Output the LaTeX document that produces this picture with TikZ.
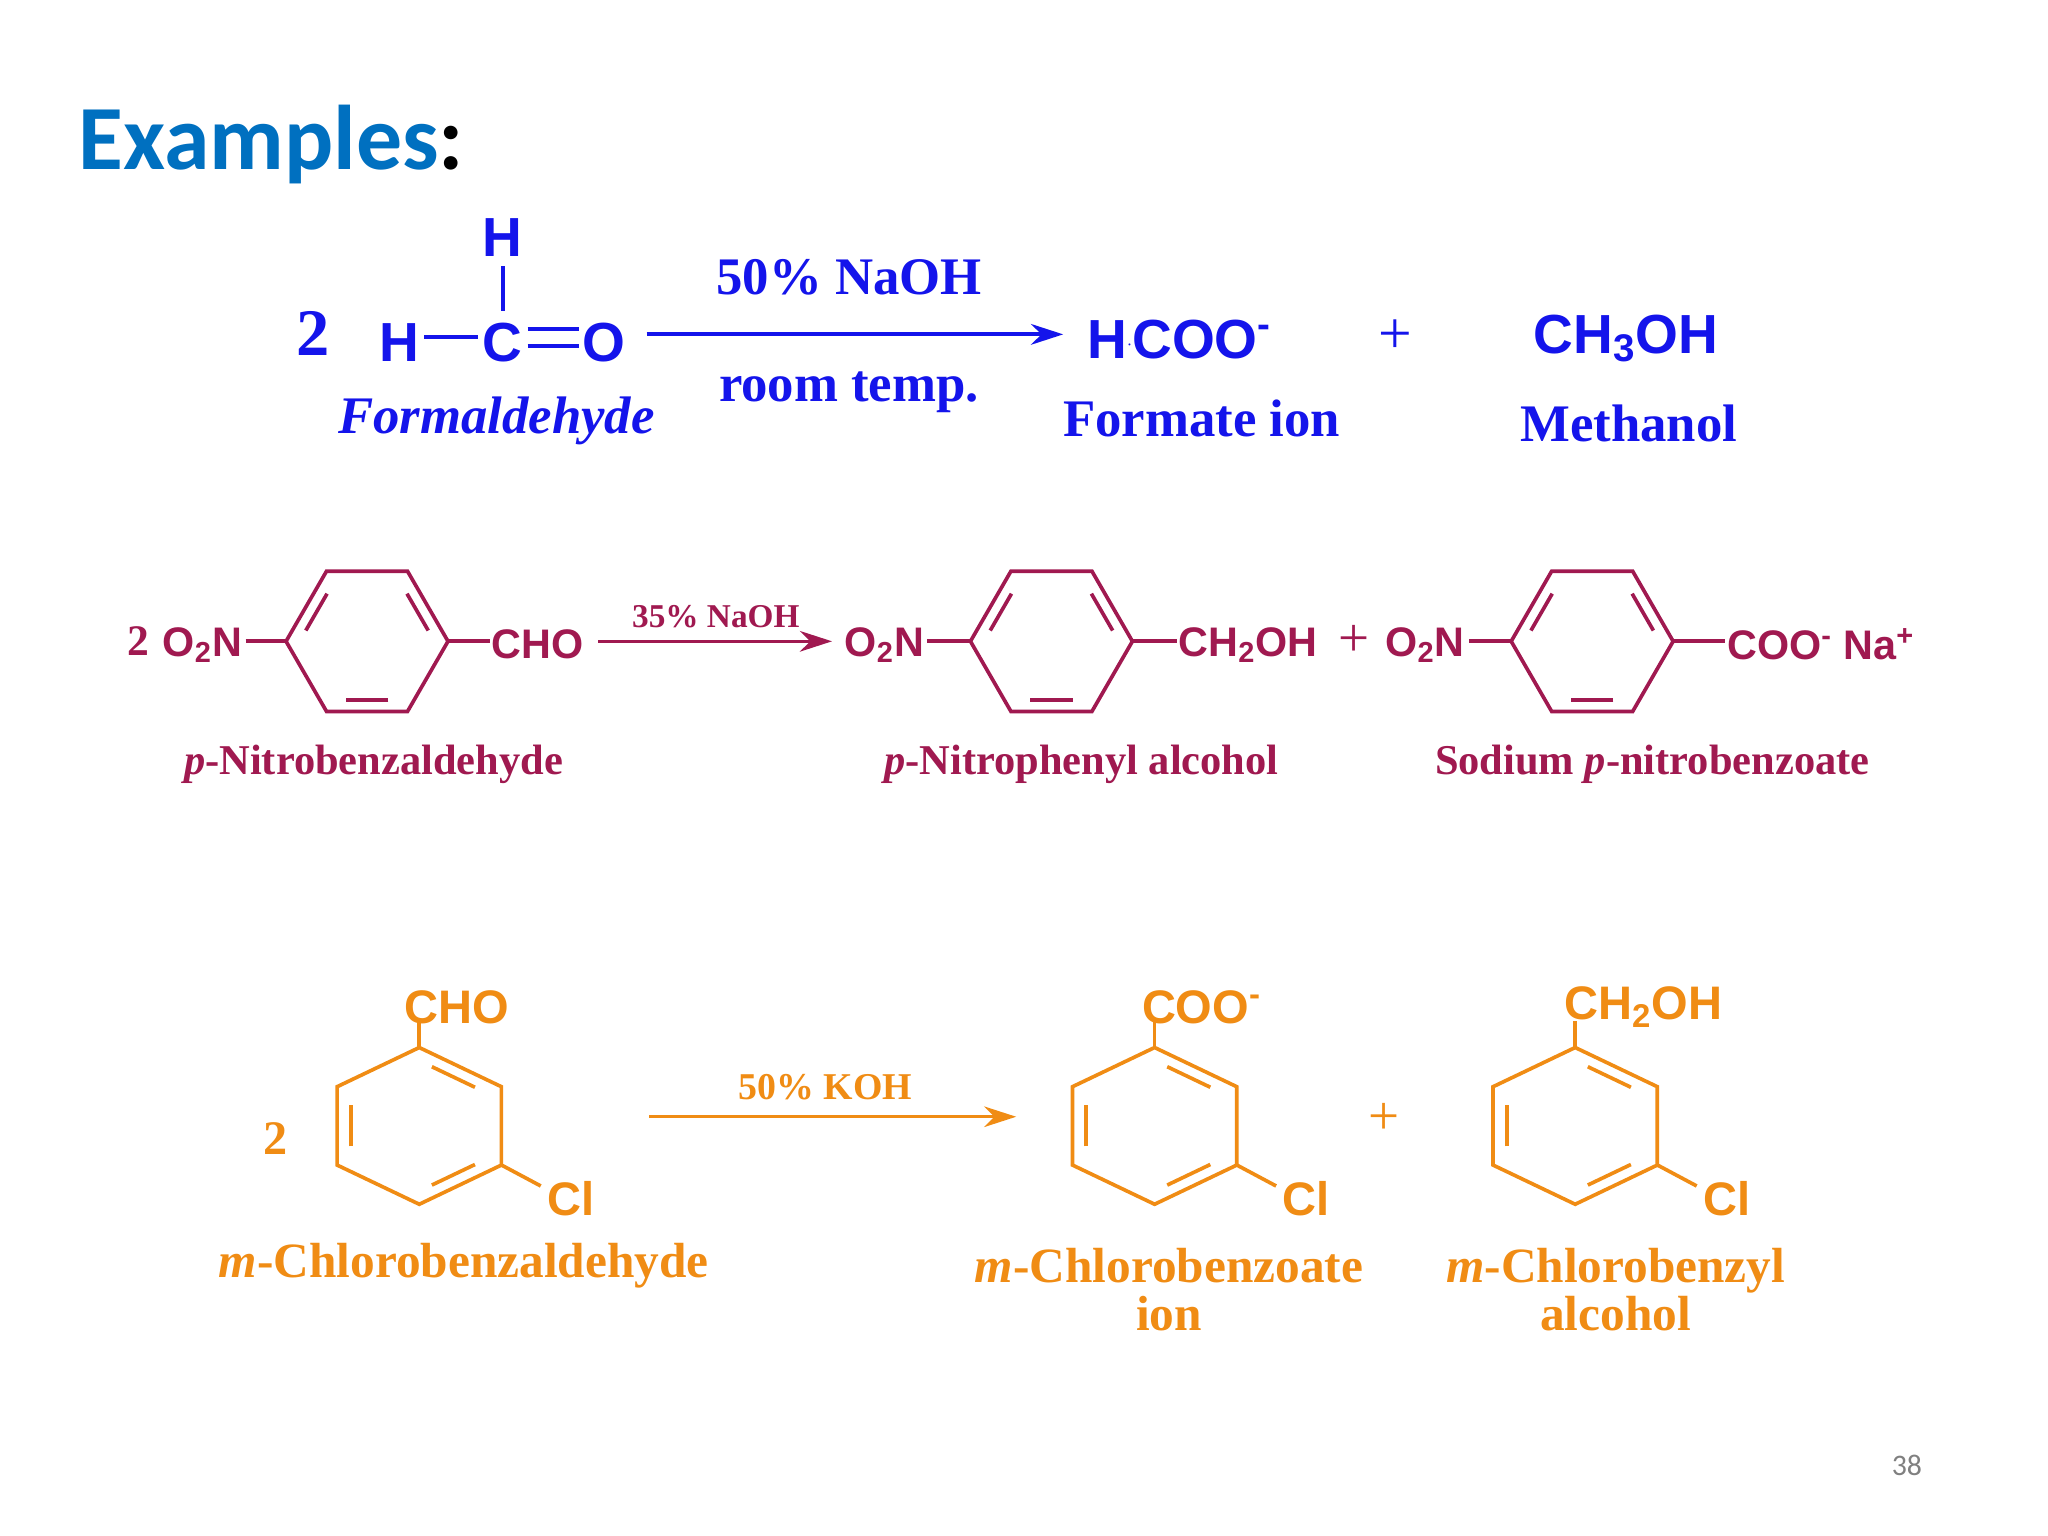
\documentclass[tikz,border=0pt]{standalone}
\usepackage{fontspec}
\setmainfont{Liberation Serif}
\newfontfamily\arial{Liberation Sans}
\newfontfamily\calib{Carlito}
\usetikzlibrary{arrows.meta,calc}
\definecolor{ttl}{RGB}{0,112,192}
\definecolor{bl}{RGB}{20,20,235}
\definecolor{mr}{RGB}{160,25,80}
\definecolor{og}{RGB}{240,140,20}
\tikzset{
 chem/.style={font=\arial\bfseries\fontsize{#1}{#1}\selectfont,inner sep=0pt},
 nm/.style={font=\bfseries\fontsize{#1}{#1}\selectfont,inner sep=0pt,align=center},
 nm2/.style={font=\bfseries\fontsize{#1}{#1}\selectfont,inner sep=0pt,align=center,anchor=north},
 bond/.style={line width=1.6pt},
 rxn/.style={line width=1.8pt,-{Stealth[length=14pt,width=9pt]}},
}
\newcommand\hringH[1]{% flat top
 \begin{scope}[shift={#1},bond]
 \draw (0:62)--(60:62)--(120:62)--(180:62)--(240:62)--(300:62)--cycle;
 \foreach \a in {60,180,300}{\draw (\a+10:47.6)--(\a+50:47.6);}
 \end{scope}}
\newcommand\hringV[1]{% pointy top
 \begin{scope}[shift={#1},bond,xscale=1.21]
 \draw (90:60)--(30:60)--(-30:60)--(-90:60)--(-150:60)--(150:60)--cycle;
 \foreach \a in {30,150,270}{\draw (\a+10:46)--(\a+50:46);}
 \end{scope}}
\begin{document}
\begin{tikzpicture}[x=0.02cm,y=-0.02cm]
\useasboundingbox[fill=white] (0,0) rectangle (1568,1176);
\node[anchor=base west,inner sep=0pt,font=\calib\bfseries\fontsize{40}{40}\selectfont] (ttl) at (60,130) {\textcolor{ttl}{Examples}:};
% Row 1
\begin{scope}[bl]
\node[nm=29] (two1) at (240,255) {2};
\node[chem=24] (h1) at (306,262) {H};
\node[chem=24] (c1) at (385,262) {C};
\node[chem=24] (o1) at (462,262) {O};
\node[chem=24] (ht) at (385,182) {H};
\draw[bond] (385,204) -- (385,238);
\draw[bond] (325,258) -- (366,258);
\draw[bond] (404,252) -- (443,252);
\draw[bond] (404,265) -- (443,265);
\node[nm=23,font=\bfseries\itshape\fontsize{23}{23}\selectfont] (fa) at (380,322) {Formaldehyde};
\node[nm=23] (r1) at (650,212) {50\% NaOH};
\node[nm=23] (r1b) at (650,300) {room temp.};
\coordinate (a1s) at (495,256);
\coordinate (a1e) at (814,256);
\draw[rxn] (a1s) -- (a1e);
\node[chem=24] (fi) at (903,260) {H\raisebox{0.3ex}{\fontsize{8}{8}\selectfont$\cdot$}COO\textsuperscript{-}};
\node[nm=23] (fil) at (920,320) {Formate ion};
\node[font=\fontsize{26}{26}\selectfont,inner sep=0pt] (p1) at (1068,258) {+};
\node[chem=24] (me) at (1245,259) {CH\textsubscript{3}OH};
\node[nm=23] (mel) at (1247,324) {Methanol};
\end{scope}
% Row 2
\begin{scope}[mr]
\node[nm=19] (two2) at (106,491) {2};
\node[chem=18] (n1) at (155,494) {O\textsubscript{2}N};
\draw[bond] (188,491) -- (219,491);
\hringH{(281,491)}
\draw[bond] (343,491) -- (375,491);
\node[chem=18,anchor=west] (cho1) at (376,493) {CHO};
\node[nm=14.5] (r2) at (548,472) {35\% NaOH};
\coordinate (a2s) at (458,491);
\coordinate (a2e) at (637,491);
\draw[rxn,line width=1.5pt] (a2s) -- (a2e);
\node[chem=18] (n2) at (677,494) {O\textsubscript{2}N};
\draw[bond] (710,491) -- (743,491);
\hringH{(805,491)}
\draw[bond] (867,491) -- (901,491);
\node[chem=18,anchor=west] (ch2) at (902,494) {CH\textsubscript{2}OH};
\node[font=\fontsize{24}{24}\selectfont,inner sep=0pt] (p2) at (1037,491) {+};
\node[chem=18] (n3) at (1091,494) {O\textsubscript{2}N};
\draw[bond] (1125,491) -- (1157,491);
\hringH{(1219,491)}
\draw[bond] (1281,491) -- (1321,491);
\node[chem=18,anchor=west] (coo2) at (1322,493) {COO\textsuperscript{-} Na\textsuperscript{+}};
\node[nm=18.5] (l21) at (286,585) {\textit{p}-Nitrobenzaldehyde};
\node[nm=18.5] (l22) at (828,585) {\textit{p}-Nitrophenyl alcohol};
\node[nm=18.5] (l23) at (1265,585) {Sodium \textit{p}-nitrobenzoate};
\end{scope}
% Row 3
\begin{scope}[og]
\node[nm=21] (two3) at (211,872) {2};
\hringV{(321,862)}
\draw[bond] (321,802) -- (321,782);
\node[chem=20.5] (cho3) at (350,771) {CHO};
\draw[bond] (384,892) -- (414,908);
\node[chem=20.5] (cl1) at (437,918) {Cl};
\node[nm=16.5] (r3) at (632,832) {50\% KOH};
\coordinate (a3s) at (497,855);
\coordinate (a3e) at (778,855);
\draw[rxn,line width=1.5pt] (a3s) -- (a3e);
\hringV{(884,862)}
\draw[bond] (884,802) -- (884,782);
\node[chem=20.5] (coo3) at (920,771) {COO\textsuperscript{-}};
\draw[bond] (947,892) -- (977,908);
\node[chem=20.5] (cl2) at (1000,918) {Cl};
\node[font=\fontsize{24}{24}\selectfont,inner sep=0pt] (p3) at (1060,857) {+};
\hringV{(1206,862)}
\draw[bond] (1206,802) -- (1206,782);
\node[chem=20.5] (ch3) at (1258,771) {CH\textsubscript{2}OH};
\draw[bond] (1269,892) -- (1299,908);
\node[chem=20.5] (cl3) at (1322,918) {Cl};
\node[nm=21.5] (l31) at (355,969) {\textit{m}-Chlorobenzaldehyde};
\node[nm2=21.5] (l32) at (895,955) {\textit{m}-Chlorobenzoate\\[-0.5pt]ion};
\node[nm2=21.5] (l33) at (1237,955) {\textit{m}-Chlorobenzyl\\[-0.5pt]alcohol};
\end{scope}
\node[font=\calib\fontsize{13}{13}\selectfont,text=gray] (pg) at (1460,1122) {38};
\end{tikzpicture}
\end{document}
